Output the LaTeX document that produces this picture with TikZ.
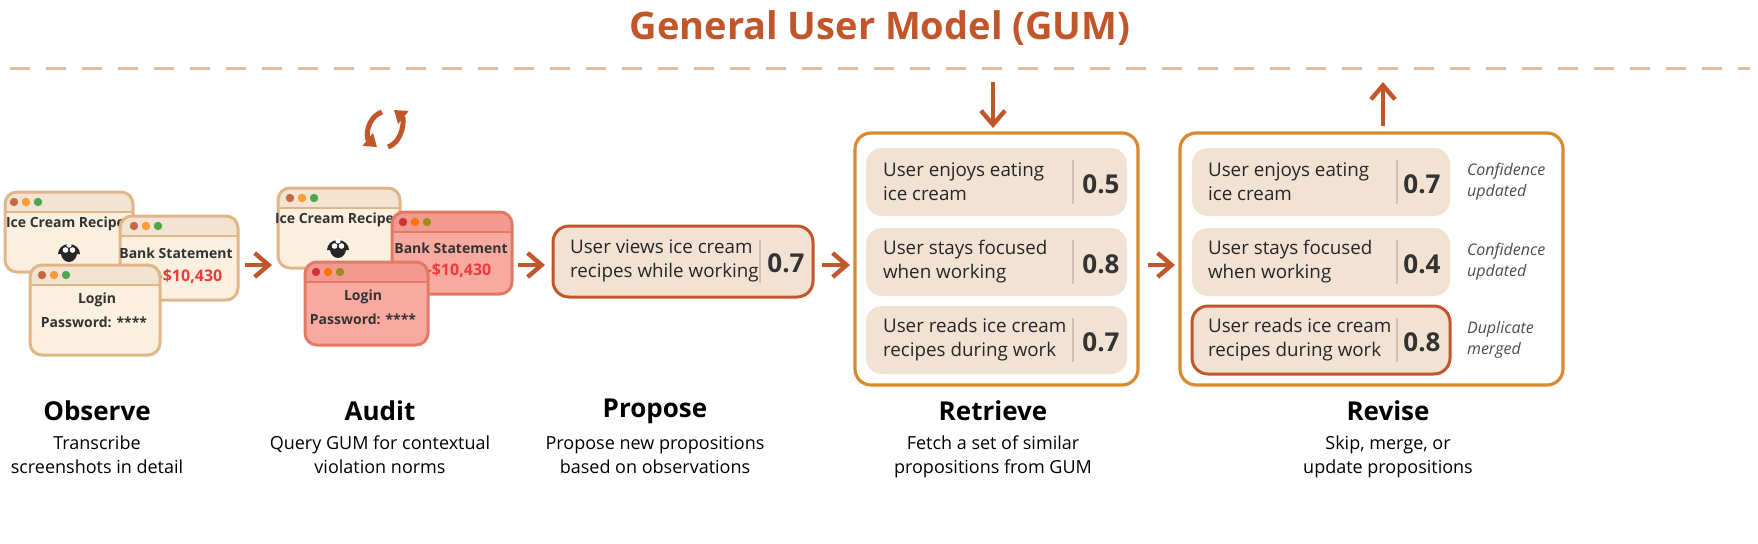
\documentclass[tikz,border=0pt]{standalone}
\usepackage{fontspec}
\setmainfont{Open Sans}
\usetikzlibrary{arrows.meta}
\definecolor{rust}{HTML}{C2562B}
\definecolor{orng}{HTML}{D98A2E}
\definecolor{tan}{HTML}{F2E2D4}
\definecolor{dashc}{HTML}{E3BC9C}
\definecolor{winfill}{HTML}{FBF0E0}
\definecolor{winbar}{HTML}{F3E3D3}
\definecolor{winline}{HTML}{E0B589}
\definecolor{redfill}{HTML}{F8AAA0}
\definecolor{redbar}{HTML}{F39A90}
\definecolor{redline}{HTML}{E07A65}
\definecolor{money}{HTML}{EE3B3B}
\definecolor{divc}{HTML}{D3BFAE}
\newcommand{\mywin}[7]{%
  \begin{scope}
  \clip[rounded corners=6pt] (#1,#2) rectangle (#3,#4);
  \fill[#5] (#1,#2) rectangle (#3,#4);
  \fill[#6] (#1,#2) rectangle (#3,#2+20);
  \end{scope}
  \draw[#7,line width=1.5pt,rounded corners=6pt] (#1,#2) rectangle (#3,#4);
  \draw[#7,line width=1.2pt] (#1,#2+20) -- (#3,#2+20);}
\newcommand{\tdots}[5]{%
  \fill[#3] (#1,#2) circle (4.2);
  \fill[#4] (#1+12,#2) circle (4.2);
  \fill[#5] (#1+24,#2) circle (4.2);}
\newcommand{\icecream}[2]{%
  \fill[black!85] (#1-11,#2) -- (#1+11,#2) arc (0:-180:11 and 10) -- cycle;
  \fill[black!85] (#1-8,#2-1) arc (180:0:8 and 9) -- cycle;
  \fill[white] (#1-3.5,#2-4) circle (2.8);
  \fill[white] (#1+3.5,#2-4) circle (2.8);
  \fill[white] (#1,#2-9) circle (2.6);
  \fill[black!85] (#1-5,#2+12) rectangle (#1+5,#2+16);}
\begin{document}
\begin{tikzpicture}[x=0.5pt,y=-0.5pt,
  arr/.style={-{Straight Barb[length=7pt,width=12pt,line width=2.2pt]},rust,line width=2.2pt},
  item/.style={fill=tan,rounded corners=8pt},
  txt/.style={font=\fontsize{9.4}{12}\selectfont,align=left,anchor=west,text=black!85},
  val/.style={font=\fontsize{13}{15}\selectfont\bfseries,text=black!80},
  side/.style={font=\fontsize{8}{10.5}\selectfont\itshape,align=left,anchor=west,text=black!70},
  head/.style={font=\fontsize{13}{15}\selectfont\bfseries},
  desc/.style={font=\fontsize{9}{12}\selectfont,align=center,anchor=north},
  wt/.style={font=\fontsize{7}{9}\selectfont\bfseries,text=black!80}]
\useasboundingbox (0,0) rectangle (1758,543);
\node[font=\fontsize{19}{22}\selectfont\bfseries,text=rust] (title) at (880,28) {General User Model (GUM)};
\draw[dashc,line width=1.5pt,dash pattern=on 10pt off 8pt] (10,68) -- (1750,68);
% Observe
\mywin{5}{192}{133}{272}{winfill}{winbar}{winline}
\tdots{14}{202}{rust!90}{orange!80}{green!50!black!70}
\node[wt] (o1) at (69,224) {Ice Cream Recipes};
\icecream{69}{254}
\mywin{120}{216}{238}{300}{winfill}{winbar}{winline}
\tdots{134}{226}{rust!90}{orange!80}{green!50!black!70}
\node[wt] (o2) at (176,253) {Bank Statement};
\node[wt,text=money,font=\fontsize{8}{10}\selectfont\bfseries] (o3) at (190,276) {-\$10,430};
\mywin{30}{265}{160}{355}{winfill}{winbar}{winline}
\tdots{42}{275}{rust!90}{orange!80}{green!50!black!70}
\node[wt] (o4) at (97,300) {Login};
\node[wt] (o5) at (94,322) {Password: ****};
\coordinate (oa) at (245,265); \coordinate (ob) at (272,265);
\draw[arr] (oa) -- (ob);
% Audit
\mywin{278}{188}{400}{268}{winfill}{winbar}{winline}
\tdots{290}{198}{rust!90}{orange!80}{green!50!black!70}
\node[wt] (a1) at (338,220) {Ice Cream Recipes};
\icecream{338}{250}
\mywin{392}{212}{512}{294}{redfill}{redbar}{redline}
\tdots{403}{222}{red!75!black!80}{orange!90!red}{olive!70!brown}
\node[wt] (a2) at (451,248) {Bank Statement};
\node[wt,text=money,font=\fontsize{8}{10}\selectfont\bfseries] (a3) at (459,270) {-\$10,430};
\mywin{305}{262}{428}{345}{redfill}{redbar}{redline}
\tdots{316}{272}{red!75!black!80}{orange!90!red}{olive!70!brown}
\node[wt] (a4) at (363,297) {Login};
\node[wt] (a5) at (363,319) {Password: ****};
% cycle icon
\coordinate (c1) at (382,112); \coordinate (c2) at (377,147);
\coordinate (c3) at (388,147); \coordinate (c4) at (394,110);
\draw[rust,line width=2.5pt,-{Triangle[length=6pt,width=8pt]}] (c1) .. controls (366,118) and (366,138) .. (c2);
\draw[rust,line width=2.5pt,-{Triangle[length=6pt,width=8pt]}] (c3) .. controls (404,141) and (404,118) .. (c4);
\coordinate (aa) at (518,265); \coordinate (ab) at (545,265);
\draw[arr] (aa) -- (ab);
% Propose
\draw[item,draw=rust,line width=1.5pt] (553,226) rectangle (813,297);
\node[txt] (p1) at (563,261) {User views ice cream\\recipes while working};
\draw[divc,line width=1pt] (760,240) -- (760,283);
\node[val] (p2) at (786,263) {0.7};
\coordinate (pa) at (822,265); \coordinate (pb) at (850,265);
\draw[arr] (pa) -- (pb);
% Retrieve
\draw[orng,line width=1.6pt,rounded corners=8pt] (855,133) rectangle (1138,385);
\coordinate (ra) at (993,82); \coordinate (rb) at (993,128);
\draw[arr] (ra) -- (rb);
\foreach \y/\t/\v [count=\i] in {148/User enjoys eating\\ice cream/0.5, 228/User stays focused\\when working/0.8, 306/User reads ice cream\\recipes during work/0.7}{
  \fill[item] (866,\y) rectangle (1127,\y+68);
  \node[txt] (r\i) at (876,\y+34) {\t};
  \draw[divc,line width=1pt] (1073,\y+12) -- (1073,\y+56);
  \node[val] (rv\i) at (1101,\y+36) {\v};
}
\coordinate (ea) at (1148,265); \coordinate (eb) at (1175,265);
\draw[arr] (ea) -- (eb);
% Revise
\draw[orng,line width=1.6pt,rounded corners=8pt] (1180,133) rectangle (1563,385);
\coordinate (va) at (1383,126); \coordinate (vb) at (1383,82);
\draw[arr] (va) -- (vb);
\foreach \y/\t/\v/\s [count=\i] in {148/User enjoys eating\\ice cream/0.7/Confidence\\updated, 228/User stays focused\\when working/0.4/Confidence\\updated, 306/User reads ice cream\\recipes during work/0.8/Duplicate\\merged}{
  \fill[item] (1192,\y) rectangle (1450,\y+68);
  \node[txt] (v\i) at (1201,\y+34) {\t};
  \draw[divc,line width=1pt] (1397,\y+12) -- (1397,\y+56);
  \node[val] (vv\i) at (1422,\y+36) {\v};
  \node[side] (vs\i) at (1460,\y+34) {\s};
}
\draw[rust,line width=1.5pt,rounded corners=8pt] (1192,306) rectangle (1450,374);
% headers
\foreach \x/\h/\d [count=\i] in {97/Observe/{Transcribe\\screenshots in detail}, 380/Audit/{Query GUM for contextual\\violation norms}, 655/Propose/{Propose new propositions\\based on observations}, 993/Retrieve/{Fetch a set of similar\\propositions from GUM}, 1388/Revise/{Skip, merge, or\\update propositions}}{
  \node[head] (h\i) at (\x,411) {\h};
  \node[desc] (d\i) at (\x,429) {\d};
}
\end{tikzpicture}
\end{document}
